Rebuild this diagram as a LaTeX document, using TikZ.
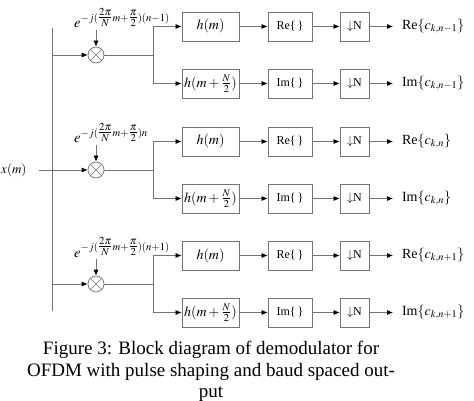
\documentclass[tikz,border=0pt]{standalone}
\usepackage{amsmath}
\usepackage{mathptmx}
\usepackage{fontspec}
\setmainfont{Liberation Serif}
\usepackage{tikz}
\usetikzlibrary{arrows.meta}

\definecolor{linegray}{gray}{0.45}

\begin{document}
\begin{tikzpicture}[x=1pt,y=-1pt,
	wire/.style={draw=linegray,line width=0.7pt},
	flow/.style={wire,-{Latex[black,length=6pt,width=5pt]}},
	blk/.style={draw=linegray,line width=0.8pt,minimum height=29pt,inner sep=0pt,font=\fontsize{12}{14}\selectfont},
	lbl/.style={anchor=west,inner sep=0pt,outer xsep=9pt,font=\fontsize{14}{16}\selectfont},
	mul/.style={circle,draw=linegray,line width=0.7pt,minimum size=16pt,inner sep=0pt,
		path picture={\draw[linegray,line width=0.6pt] (path picture bounding box.north west) -- (path picture bounding box.south east) (path picture bounding box.north east) -- (path picture bounding box.south west);}}]
	\useasboundingbox (0,0) rectangle (474,401);
	% input bus
	\coordinate (bt) at (52,28);
	\coordinate (bb) at (52,311);
	\draw[wire] (bt) -- (bb);
	\node[anchor=west,inner sep=0pt,font=\fontsize{13}{15}\selectfont] (xin) at (1,170) {$x(m)$};
	\coordinate (xs) at (39,170);
	\coordinate (xbus) at (52,170);
	\draw[wire] (xs) -- (xbus);
	% one branch per symbol
	\foreach \g/\yc/\ix/\sub in {1/55/{(n-1)}/{n-1},2/170/{n}/{n},3/284/{(n+1)}/{n+1}}{
		\node[mul] (mul\g) at (96,\yc) {};
		\node[anchor=base west,inner sep=0pt,font=\fontsize{14.5}{17}\selectfont] (ex\g) at (74,\yc-27)
			{$e^{-j(\genfrac{}{}{}{1}{2\pi}{N}m+\genfrac{}{}{}{1}{\pi}{2})\ix}$};
		\coordinate (in\g) at (52,\yc);
		\coordinate (top\g) at (96,\yc-25);
		\coordinate (sp\g) at (153,\yc);
		\node[blk,minimum width=57pt,font=\fontsize{14}{16}\selectfont] (hre\g) at (210.5,\yc-28.5) {$h(m)$};
		\node[blk,minimum width=57pt,font=\fontsize{14}{16}\selectfont] (him\g) at (210.5,\yc+28.5) {$h(m+\frac{N}{2})$};
		\node[blk,minimum width=44pt] (re\g) at (290,\yc-28.5) {Re\{\,\}};
		\node[blk,minimum width=44pt] (im\g) at (290,\yc+28.5) {Im\{\,\}};
		\node[blk,minimum width=29pt] (dre\g) at (354.5,\yc-28.5) {$\downarrow$N};
		\node[blk,minimum width=29pt] (dim\g) at (354.5,\yc+28.5) {$\downarrow$N};
		\node[lbl] (ore\g) at (393,\yc-28.5) {Re$\{c_{k,\sub}\}$};
		\node[lbl] (oim\g) at (393,\yc+28.5) {Im$\{c_{k,\sub}\}$};
		\draw[flow] (in\g) -- (mul\g);
		\draw[flow] (top\g) -- (mul\g);
		\draw[wire] (mul\g) -- (sp\g);
		\draw[flow] (sp\g) |- (hre\g);
		\draw[flow] (sp\g) |- (him\g);
		\draw[flow] (hre\g) -- (re\g);
		\draw[flow] (him\g) -- (im\g);
		\draw[flow] (re\g) -- (dre\g);
		\draw[flow] (im\g) -- (dim\g);
		\draw[flow] (dre\g) -- (ore\g);
		\draw[flow] (dim\g) -- (oim\g);
	}
	% caption
	\node[anchor=north,inner sep=0pt,align=center,font=\fontsize{19}{21.5}\selectfont] (cap) at (211,341)
		{Figure 3: Block diagram of demodulator for\\OFDM with pulse shaping and baud spaced out-\\put};
\end{tikzpicture}
\end{document}
